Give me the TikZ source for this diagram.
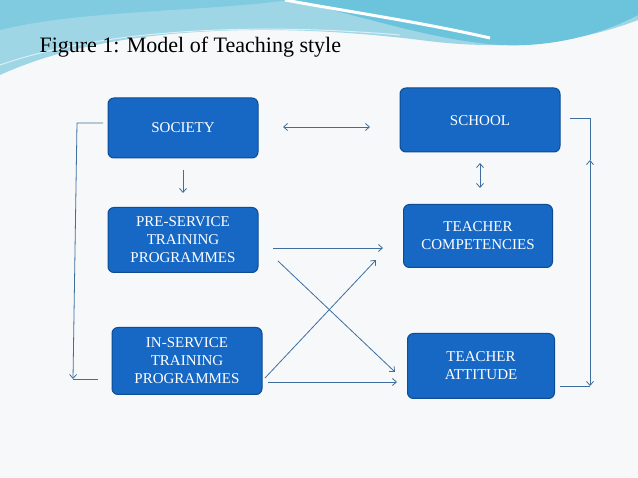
\documentclass[tikz,border=0pt]{standalone}
\usepackage{fontspec}
\setmainfont{Liberation Serif}
\usetikzlibrary{arrows.meta}
\definecolor{bg}{HTML}{F6F8FA}
\definecolor{boxfill}{HTML}{1668C4}
\definecolor{boxdraw}{HTML}{0E4C94}
\definecolor{arr}{HTML}{3F6E9E}
\definecolor{waveA}{HTML}{9FD6E6}
\definecolor{waveB}{HTML}{6CC4DC}
\begin{document}
\begin{tikzpicture}[x=1pt,y=-1pt,
  blk/.style={draw=boxdraw,line width=1pt,fill=boxfill,rounded corners=6pt,text=white,align=center,font=\fontsize{15}{18}\selectfont},
  con/.style={draw=arr,line width=0.8pt,-{Straight Barb[length=4pt,width=7pt]}},
  bcon/.style={draw=arr,line width=0.8pt,{Straight Barb[length=4pt,width=7pt]}-{Straight Barb[length=4pt,width=7pt]}},
  ln/.style={draw=arr,line width=0.8pt}]
\fill[bg] (0,0) rectangle (638,478);
\useasboundingbox (0,0) rectangle (638,478);
% banner
\fill[waveA] (0,0) -- (638,0) -- (638,20) .. controls (560,50) and (480,48) .. (420,40) .. controls (300,25) and (120,20) .. (0,75) -- cycle;
\fill[waveB] (290,0) .. controls (360,15) and (430,40) .. (500,45) .. controls (560,48) and (610,30) .. (638,15) -- (638,0) -- cycle;
\fill[waveB!60!waveA] (0,0) -- (290,0) .. controls (200,12) and (80,10) .. (0,30) -- cycle;
\draw[white,line width=3pt] (285,0) .. controls (350,12) and (420,22) .. (490,38);
\draw[white!60!waveA,line width=1pt] (0,65) .. controls (100,30) and (250,22) .. (400,35);
\node[anchor=west,font=\fontsize{22}{24}\selectfont] (title) at (36,47) {Figure 1: Model of Teaching style};
% boxes
\node[blk,minimum width=150pt,minimum height=60pt] (soc) at (183,128) {SOCIETY};
\node[blk,minimum width=160pt,minimum height=64pt] (sch) at (480,120) {};
\node[text=white,font=\fontsize{15}{18}\selectfont] (schl) at (480,121) {SCHOOL};
\node[blk,minimum width=150pt,minimum height=65pt] (pre) at (183,240) {PRE-SERVICE\\TRAINING\\PROGRAMMES};
\node[blk,minimum width=149pt,minimum height=63pt] (comp) at (478,236) {TEACHER\\COMPETENCIES};
\node[blk,minimum width=150pt,minimum height=67pt] (ins) at (187,361) {IN-SERVICE\\TRAINING\\PROGRAMMES};
\node[blk,minimum width=147pt,minimum height=65pt] (att) at (481,366) {TEACHER\\ATTITUDE};
% connector points
\coordinate (a1) at (283,127); \coordinate (a2) at (370,127);
\coordinate (b1) at (183,170); \coordinate (b2) at (183,193);
\coordinate (c1) at (480,163); \coordinate (c2) at (480,188);
\coordinate (d1) at (273,248); \coordinate (d2) at (383,248);
\coordinate (e1) at (278,261); \coordinate (e2) at (395,372);
\coordinate (f1) at (265,378); \coordinate (f2) at (376,260);
\coordinate (g1) at (268,382); \coordinate (g2) at (397,382);
\coordinate (l1) at (103,123); \coordinate (l2) at (77,123); \coordinate (l3) at (73,379); \coordinate (l4) at (98,379);
\coordinate (r1) at (570,118); \coordinate (r2) at (590,118); \coordinate (r3) at (590,160); \coordinate (r4) at (590,386); \coordinate (r5) at (560,386);
\draw[bcon] (a1) -- (a2);
\draw[con] (b1) -- (b2);
\draw[bcon] (c1) -- (c2);
\draw[con] (d1) -- (d2);
\draw[con] (e1) -- (e2);
\draw[con] (f1) -- (f2);
\draw[con] (g1) -- (g2);
\draw[con] (l1) -- (l2) -- (l3);
\draw[ln] (l3) -- (l4);
\draw[ln] (r1) -- (r2) -- (r3);
\draw[bcon] (r3) -- (r4);
\draw[ln] (r5) -- (r4);
\end{tikzpicture}
\end{document}
